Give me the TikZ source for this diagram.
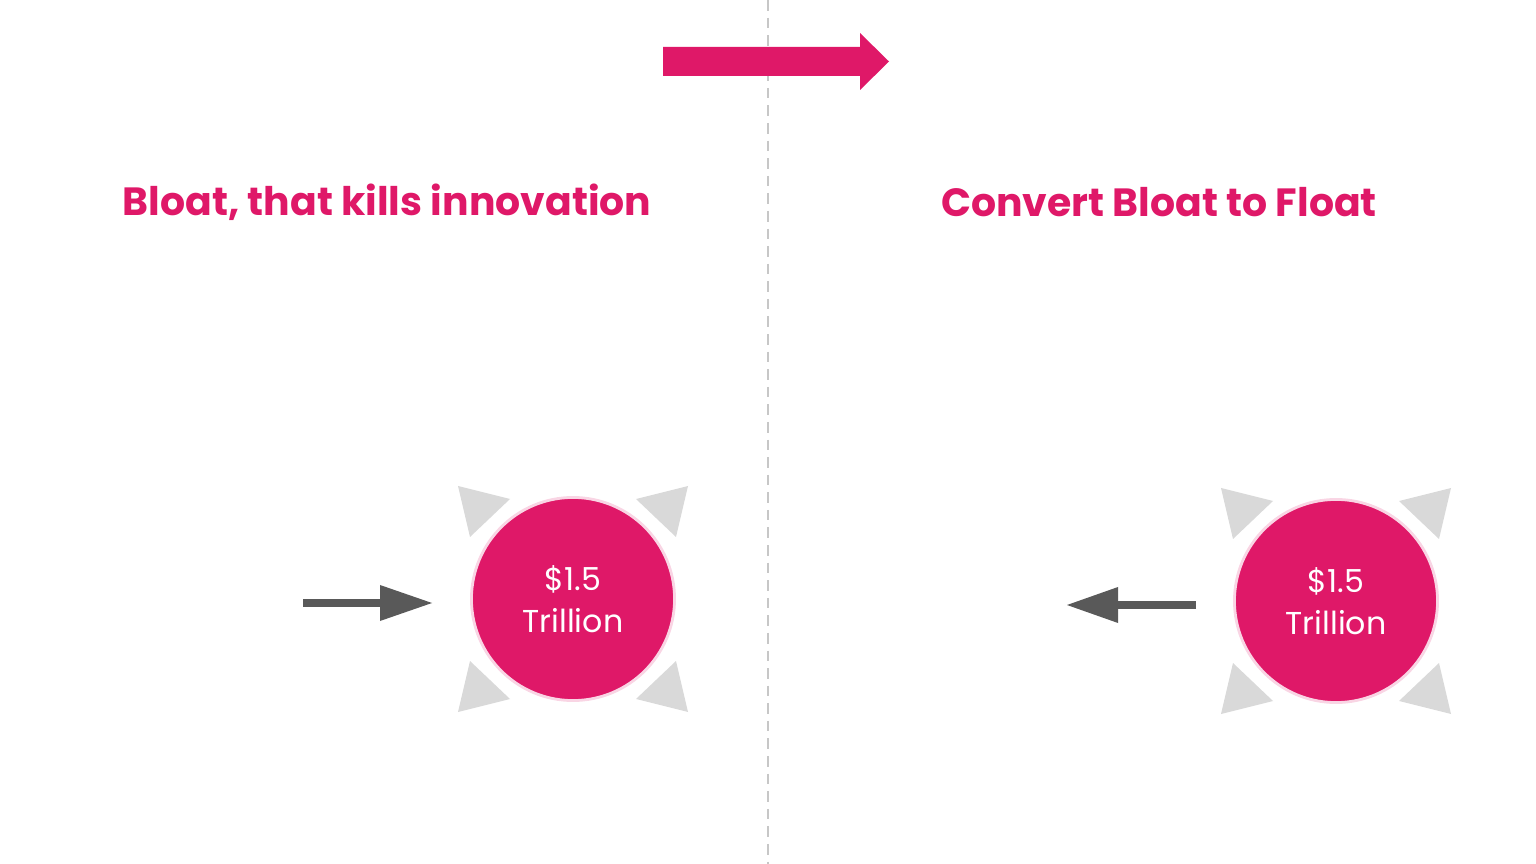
\documentclass[tikz,border=0pt]{standalone}
\usepackage{fontspec}
\setmainfont{Poppins}
\usetikzlibrary{positioning}
\definecolor{bloatpink}{RGB}{223,24,104}
\definecolor{spikegray}{RGB}{217,217,217}
\definecolor{arrowgray}{RGB}{89,89,89}
\begin{document}
\begin{tikzpicture}[x=0.01cm,y=-0.01cm,
  title/.style={text=bloatpink,font=\bfseries\fontsize{11.2}{13}\selectfont},
  coin/.style={circle,fill=bloatpink,draw=bloatpink!18,line width=0.8pt,minimum size=2.03cm,
    text=white,align=center,font=\fontsize{9}{12}\selectfont},
  spike/.style={fill=spikegray}]
  \useasboundingbox (0,0) rectangle (1536,864);
  % divider and top arrow
  \coordinate (dtop) at (768,0);
  \coordinate (dbot) at (768,864);
  \draw[spikegray!80!gray,dash pattern=on 3pt off 2pt,line width=0.6pt] (dtop) -- (dbot);
  \fill[bloatpink] (663,47) -- (860,47) -- (860,33) -- (889,61.5) -- (860,90) -- (860,76) -- (663,76) -- cycle;
  % titles
  \node[title] (lefttitle) at (387,202) {Bloat, that kills innovation};
  \node[title] (righttitle) at (1159,202) {Convert Bloat to Float};
  % coins with spikes
  \foreach \cx/\cy/\nm in {573/599/leftcoin,1336/601/rightcoin} {
    \foreach \sx/\sy in {1/1,-1/1,1/-1,-1/-1}
      \fill[spike] (\cx+\sx*115,\cy+\sy*113) -- (\cx+\sx*63,\cy+\sy*100) -- (\cx+\sx*103,\cy+\sy*62) -- cycle;
    \node[coin] (\nm) at (\cx,\cy) {\$1.5\\Trillion};
  }
  % gray arrows
  \coordinate (lin) at (303,603);
  \coordinate (lhead) at (382,603);
  \draw[arrowgray,line width=2.3pt] (lin) -- (lhead);
  \fill[arrowgray] (380,585) -- (432,603) -- (380,621) -- cycle;
  \coordinate (rout) at (1196,605);
  \coordinate (rhead) at (1116,605);
  \draw[arrowgray,line width=2.3pt] (rout) -- (rhead);
  \fill[arrowgray] (1118,587) -- (1067,605) -- (1118,623) -- cycle;
\end{tikzpicture}
\end{document}
